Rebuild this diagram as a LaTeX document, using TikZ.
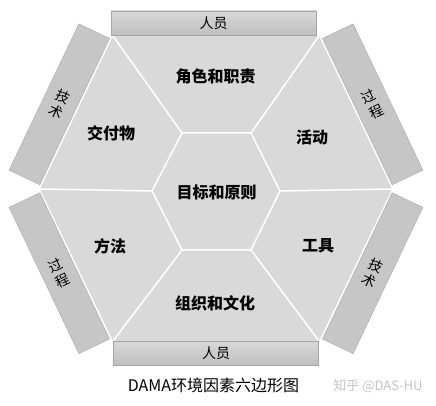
\documentclass[tikz,border=0pt]{standalone}
\usepackage{fontspec}
\setmainfont{Noto Sans CJK SC}
\usetikzlibrary{calc}
\definecolor{cellgray}{HTML}{D9D9D9}
\definecolor{bargray}{HTML}{C6C6C6}
\definecolor{barline}{HTML}{A6A6A6}
\definecolor{markgray}{HTML}{C4C4C4}

\begin{document}
\begin{tikzpicture}[x=1pt,y=1pt,
  cell/.style={font=\fontsize{16}{19}\selectfont\bfseries},
  flatbar/.style={draw=barline, top color=black!15, bottom color=black!25, minimum width=205, minimum height=24, inner sep=0pt, font=\fontsize{14}{17}\selectfont},
  sidebar/.style={draw=barline, fill=bargray, minimum width=34, minimum height=162, inner sep=0pt, outer sep=2pt, align=center, font=\fontsize{14}{17}\selectfont},
  split/.style={white, line width=1.5pt}]
%%canvas
\useasboundingbox (0,0) rectangle (436,406);
%%outer hexagon
\coordinate (oL) at (40,217);
\coordinate (oTL) at (113,370);
\coordinate (oTR) at (319,370);
\coordinate (oR) at (392,217);
\coordinate (oBR) at (319,65);
\coordinate (oBL) at (113,65);
%%inner hexagon
\coordinate (iL) at (152,215);
\coordinate (iTL) at (182,273);
\coordinate (iTR) at (251,273);
\coordinate (iR) at (280,215);
\coordinate (iBR) at (251,156);
\coordinate (iBL) at (182,156);
\fill[cellgray] (oL)--(oTL)--(oTR)--(oR)--(oBR)--(oBL)--cycle;
\draw[split] (iL)--(iTL)--(iTR)--(iR)--(iBR)--(iBL)--cycle;
\foreach \v in {L,TL,TR,R,BR,BL}
  \draw[split] (i\v)--(o\v);

%%bars
\node[flatbar] (ppltop) at (213.5,383) {人员};
\node[flatbar] (pplbot) at (216,53) {人员};
\node[sidebar, rotate=-25.5, anchor=east] (techul) at ($(oL)!0.5!(oTL)$) {技\\术};
\node[sidebar, rotate=25.5, anchor=west] (procur) at ($(oR)!0.5!(oTR)$) {过\\程};
\node[sidebar, rotate=25.5, anchor=east] (procll) at ($(oL)!0.5!(oBL)$) {过\\程};
\node[sidebar, rotate=-25.5, anchor=west] (techlr) at ($(oR)!0.5!(oBR)$) {技\\术};

%%Label
\node[cell] (roles) at (215.5,330) {角色和职责};
\node[cell] (deliv) at (111,273) {交付物};
\node[cell] (activ) at (312,269) {活动};
\node[cell] (goals) at (216.5,214) {目标和原则};
\node[cell] (method) at (110,160) {方法};
\node[cell] (tools) at (318,160) {工具};
\node[cell] (org) at (215,103) {组织和文化};
\node[font=\fontsize{16}{19}\selectfont] (title) at (213.5,21) {DAMA环境因素六边形图};
\node[text=markgray, font=\fontsize{13}{16}\selectfont] (mark) at (378,20) {知乎 @DAS-HU};
\end{tikzpicture}
\end{document}
